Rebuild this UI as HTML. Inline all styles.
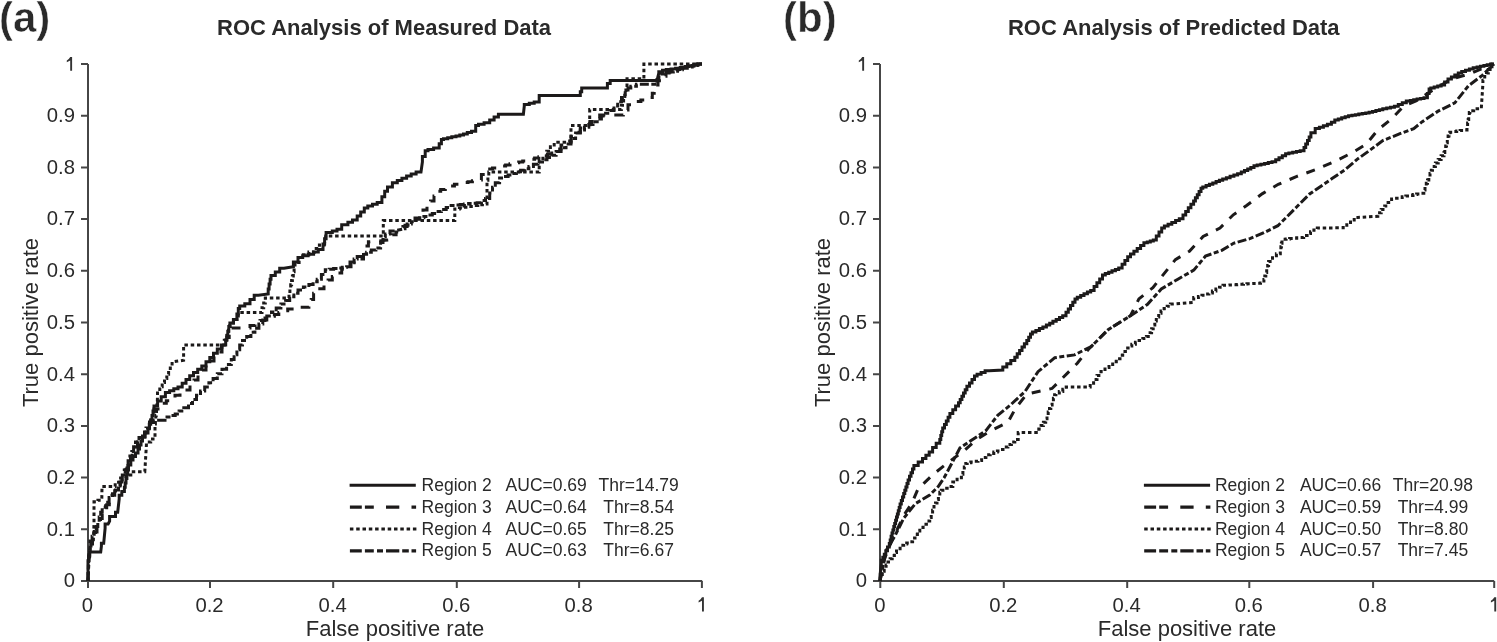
<!DOCTYPE html>
<html><head><meta charset="utf-8"><style>
html,body{margin:0;padding:0;background:#fff;width:1497px;height:642px;overflow:hidden}
svg{display:block;will-change:transform}
text{font-family:"Liberation Sans",sans-serif;fill:#2a2a2a}
</style></head><body>
<svg width="1497" height="642" viewBox="0 0 1497 642">
<text x="-1" y="32" font-size="42" font-weight="bold" text-anchor="start" fill="#1e1b1b" stroke="#fff" stroke-width="0.5">(a)</text>
<text x="783" y="32" font-size="42" font-weight="bold" text-anchor="start" fill="#1e1b1b" stroke="#fff" stroke-width="0.5">(b)</text>
<text x="217" y="35" font-size="22" font-weight="bold" text-anchor="start" fill="#1e1b1b" transform="translate(0 35) scale(1 1.04) translate(0 -35)">ROC Analysis of Measured Data</text>
<text x="1008" y="35" font-size="22" font-weight="bold" text-anchor="start" fill="#1e1b1b" transform="translate(0 35) scale(1 1.04) translate(0 -35)">ROC Analysis of Predicted Data</text>
<path d="M88 64V581H702.2" fill="none" stroke="#464646" stroke-width="2"/>
<text x="75" y="587.3" font-size="20.3" font-weight="normal" text-anchor="end" fill="#333">0</text>
<text x="75" y="535.5999999999999" font-size="20.3" font-weight="normal" text-anchor="end" fill="#333">0.1</text>
<text x="75" y="483.90000000000003" font-size="20.3" font-weight="normal" text-anchor="end" fill="#333">0.2</text>
<text x="75" y="432.2" font-size="20.3" font-weight="normal" text-anchor="end" fill="#333">0.3</text>
<text x="75" y="380.5" font-size="20.3" font-weight="normal" text-anchor="end" fill="#333">0.4</text>
<text x="75" y="328.8" font-size="20.3" font-weight="normal" text-anchor="end" fill="#333">0.5</text>
<text x="75" y="277.1" font-size="20.3" font-weight="normal" text-anchor="end" fill="#333">0.6</text>
<text x="75" y="225.40000000000003" font-size="20.3" font-weight="normal" text-anchor="end" fill="#333">0.7</text>
<text x="75" y="173.7" font-size="20.3" font-weight="normal" text-anchor="end" fill="#333">0.8</text>
<text x="75" y="121.99999999999999" font-size="20.3" font-weight="normal" text-anchor="end" fill="#333">0.9</text>
<path d="M70.20 56.90H72.10V70.80H70.20V60.50L66.80 62.30V60.40Q69.00 59.10 70.20 56.90Z" fill="#333"/>
<text x="87.5" y="612" font-size="20.3" font-weight="normal" text-anchor="middle" fill="#333">0</text>
<text x="209.5" y="612" font-size="20.3" font-weight="normal" text-anchor="middle" fill="#333">0.2</text>
<text x="332.7" y="612" font-size="20.3" font-weight="normal" text-anchor="middle" fill="#333">0.4</text>
<text x="456.3" y="612" font-size="20.3" font-weight="normal" text-anchor="middle" fill="#333">0.6</text>
<text x="578.6" y="612" font-size="20.3" font-weight="normal" text-anchor="middle" fill="#333">0.8</text>
<path d="M702.00 597.20H703.90V611.60H702.00V600.80L698.60 602.60V600.70Q700.80 599.40 702.00 597.20Z" fill="#333"/>
<path d="M81 581.0H88 M81 529.3H88 M81 477.6H88 M81 425.9H88 M81 374.2H88 M81 322.5H88 M81 270.8H88 M81 219.1H88 M81 167.4H88 M81 115.7H88 M81 64.0H88 M88.0 581V588 M210.0 581V588 M333.2 581V588 M456.8 581V588 M579.1 581V588 M701.9 581V588" stroke="#464646" stroke-width="2"/>
<text x="395.0" y="636" font-size="22" font-weight="normal" text-anchor="middle" fill="#333">False positive rate</text>
<text x="38" y="322.5" font-size="22" font-weight="normal" text-anchor="middle" fill="#333" transform="rotate(-90 38 322.5)">True positive rate</text>
<path d="M880 64V581H1494.2" fill="none" stroke="#464646" stroke-width="2"/>
<text x="867" y="587.3" font-size="20.3" font-weight="normal" text-anchor="end" fill="#333">0</text>
<text x="867" y="535.5999999999999" font-size="20.3" font-weight="normal" text-anchor="end" fill="#333">0.1</text>
<text x="867" y="483.90000000000003" font-size="20.3" font-weight="normal" text-anchor="end" fill="#333">0.2</text>
<text x="867" y="432.2" font-size="20.3" font-weight="normal" text-anchor="end" fill="#333">0.3</text>
<text x="867" y="380.5" font-size="20.3" font-weight="normal" text-anchor="end" fill="#333">0.4</text>
<text x="867" y="328.8" font-size="20.3" font-weight="normal" text-anchor="end" fill="#333">0.5</text>
<text x="867" y="277.1" font-size="20.3" font-weight="normal" text-anchor="end" fill="#333">0.6</text>
<text x="867" y="225.40000000000003" font-size="20.3" font-weight="normal" text-anchor="end" fill="#333">0.7</text>
<text x="867" y="173.7" font-size="20.3" font-weight="normal" text-anchor="end" fill="#333">0.8</text>
<text x="867" y="121.99999999999999" font-size="20.3" font-weight="normal" text-anchor="end" fill="#333">0.9</text>
<path d="M862.20 56.90H864.10V70.80H862.20V60.50L858.80 62.30V60.40Q861.00 59.10 862.20 56.90Z" fill="#333"/>
<text x="879.8" y="612" font-size="20.3" font-weight="normal" text-anchor="middle" fill="#333">0</text>
<text x="1003.3" y="612" font-size="20.3" font-weight="normal" text-anchor="middle" fill="#333">0.2</text>
<text x="1126.7" y="612" font-size="20.3" font-weight="normal" text-anchor="middle" fill="#333">0.4</text>
<text x="1248.8" y="612" font-size="20.3" font-weight="normal" text-anchor="middle" fill="#333">0.6</text>
<text x="1372.6" y="612" font-size="20.3" font-weight="normal" text-anchor="middle" fill="#333">0.8</text>
<path d="M1494.30 597.20H1496.20V611.60H1494.30V600.80L1490.90 602.60V600.70Q1493.10 599.40 1494.30 597.20Z" fill="#333"/>
<path d="M873 581.0H880 M873 529.3H880 M873 477.6H880 M873 425.9H880 M873 374.2H880 M873 322.5H880 M873 270.8H880 M873 219.1H880 M873 167.4H880 M873 115.7H880 M873 64.0H880 M880.3 581V588 M1003.8 581V588 M1127.2 581V588 M1249.3 581V588 M1373.1 581V588 M1494.2 581V588" stroke="#464646" stroke-width="2"/>
<text x="1187.0" y="636" font-size="22" font-weight="normal" text-anchor="middle" fill="#333">False positive rate</text>
<text x="830" y="322.5" font-size="22" font-weight="normal" text-anchor="middle" fill="#333" transform="rotate(-90 830 322.5)">True positive rate</text>
<path d="M88.0 581.0 L89.0 560.0 L89.0 555.3 L89.7 555.3 L89.7 550.7 L90.3 550.7 L90.3 546.0 L91.0 546.0 L91.0 541.8 L93.3 541.8 L94.0 524.0 L94.0 503.3 L94.0 501.8 L97.9 501.8 L97.9 500.3 L101.8 500.3 L102.0 486.4 L115.2 486.4 L115.2 482.2 L120.6 482.2 L120.6 478.0 L126.0 478.0 L126.0 474.9 L130.8 474.9 L130.8 471.7 L135.5 471.7 L144.8 471.7 L146.4 445.2 L146.4 442.1 L150.7 442.1 L150.7 439.0 L155.0 439.0 L155.0 428.0 L155.0 423.9 L155.4 423.9 L155.4 419.7 L155.8 419.7 L155.8 415.6 L156.2 415.6 L156.2 411.4 L156.5 411.4 L156.5 407.2 L156.9 407.2 L156.9 403.1 L157.3 403.1 L157.5 395.0 L157.5 390.9 L159.8 390.9 L159.8 386.8 L162.2 386.8 L162.2 382.6 L164.5 382.6 L164.5 378.5 L166.8 378.5 L166.8 374.3 L168.6 374.3 L168.6 370.1 L170.3 370.1 L170.3 365.9 L172.1 365.9 L172.1 361.7 L173.8 361.7 L183.6 360.3 L183.6 344.9 L224.3 344.9 L224.3 340.3 L225.7 340.3 L225.7 335.8 L227.1 335.8 L227.1 331.2 L228.5 331.2 L228.5 326.6 L229.9 326.6 L229.9 323.1 L233.4 323.1 L233.4 319.6 L236.9 319.6 L236.9 316.1 L238.3 316.1 L238.3 312.6 L239.7 312.6 L262.0 312.6 L262.0 307.7 L263.7 307.7 L263.7 302.9 L265.3 302.9 L265.3 298.0 L267.0 298.0 L289.0 298.0 L289.0 293.6 L289.9 293.6 L289.9 289.2 L290.7 289.2 L290.7 284.8 L291.6 284.8 L291.6 280.5 L292.4 280.5 L292.4 276.1 L293.3 276.1 L293.3 271.7 L294.1 271.7 L294.1 267.3 L295.0 267.3 L295.0 262.4 L299.1 262.4 L299.1 257.5 L303.3 257.5 L303.3 254.7 L308.9 254.7 L308.9 251.9 L314.5 251.9 L314.5 248.4 L319.4 248.4 L319.4 244.9 L324.3 244.9 L325.7 236.0 L383.3 236.0 L383.3 220.6 L454.8 220.6 L454.8 209.7 L454.8 208.9 L459.4 208.9 L459.4 208.1 L464.0 208.1 L464.0 207.3 L468.6 207.3 L468.6 206.4 L473.2 206.4 L473.2 205.6 L477.8 205.6 L477.8 204.8 L482.4 204.8 L482.4 204.0 L487.0 204.0 L487.0 184.5 L487.0 180.3 L487.9 180.3 L487.9 176.2 L488.8 176.2 L488.8 172.0 L489.7 172.0 L539.2 172.0 L539.2 165.0 L539.2 160.4 L542.9 160.4 L542.9 155.9 L546.7 155.9 L546.7 151.3 L550.4 151.3 L550.4 146.8 L554.2 146.8 L554.2 142.2 L557.9 142.2 L571.0 142.2 L571.0 125.4 L589.7 125.4 L589.7 109.5 L621.4 109.5 L621.4 105.2 L622.5 105.2 L622.5 100.9 L623.6 100.9 L623.6 96.6 L624.8 96.6 L624.8 92.3 L625.9 92.3 L625.9 88.0 L627.0 88.0 L627.0 78.7 L643.9 78.7 L643.9 64.0 L702.0 64.0" fill="none" stroke="#1c1a1a" stroke-width="3" stroke-linejoin="miter" stroke-dasharray="3.5 2.8"/>
<path d="M88.0 581.0 L88.5 560.0 L90.0 546.0 L90.0 541.1 L92.1 541.1 L92.1 536.3 L94.2 536.3 L94.2 531.4 L96.3 531.4 L96.3 526.6 L97.8 526.6 L97.8 521.8 L99.2 521.8 L99.2 517.0 L100.7 517.0 L100.7 512.2 L102.2 512.2 L102.2 507.3 L105.6 507.3 L105.6 502.3 L109.1 502.3 L109.1 497.4 L112.5 497.4 L112.5 493.7 L115.5 493.7 L115.5 490.0 L118.5 490.0 L118.5 485.0 L120.4 485.0 L120.4 480.1 L122.3 480.1 L122.3 475.1 L124.3 475.1 L124.3 470.1 L126.2 470.1 L126.2 465.4 L128.1 465.4 L128.1 460.7 L129.9 460.7 L129.9 456.1 L131.8 456.1 L131.8 451.4 L133.6 451.4 L133.6 446.7 L135.5 446.7 L135.5 442.0 L139.0 442.0 L139.0 437.4 L142.5 437.4 L142.5 432.7 L146.0 432.7 L146.0 428.0 L149.5 428.0 L149.5 424.1 L153.4 424.1 L153.4 420.2 L157.3 420.2 L165.0 420.2 L165.0 417.1 L171.3 417.1 L171.3 415.6 L175.2 415.6 L175.2 414.0 L179.1 414.0 L179.1 410.9 L183.8 410.9 L183.8 407.8 L188.5 407.8 L188.5 403.6 L192.5 403.6 L192.5 399.5 L196.5 399.5 L196.5 395.3 L200.5 395.3 L200.5 391.1 L204.7 391.1 L204.7 386.9 L208.9 386.9 L208.9 382.7 L213.1 382.7 L213.1 378.5 L217.3 378.5 L217.3 373.8 L222.0 373.8 L222.0 369.2 L226.6 369.2 L226.6 364.5 L231.3 364.5 L231.3 359.6 L234.1 359.6 L234.1 354.7 L236.9 354.7 L236.9 349.8 L239.7 349.8 L239.7 344.9 L242.5 344.9 L242.5 340.6 L246.7 340.6 L246.7 336.4 L250.9 336.4 L250.9 332.3 L254.9 332.3 L254.9 328.2 L258.9 328.2 L258.9 324.1 L262.8 324.1 L262.8 320.0 L266.8 320.0 L266.8 315.9 L271.5 315.9 L271.5 311.9 L276.2 311.9 L276.2 308.0 L280.9 308.0 L280.9 304.1 L285.6 304.1 L285.6 300.5 L289.7 300.5 L289.7 296.8 L293.9 296.8 L293.9 293.2 L298.0 293.2 L298.0 290.1 L303.4 290.1 L303.4 287.0 L308.9 287.0 L308.9 284.4 L313.1 284.4 L313.1 281.8 L317.2 281.8 L317.2 279.2 L321.4 279.2 L321.4 274.5 L325.3 274.5 L325.3 269.8 L329.2 269.8 L329.2 269.2 L333.6 269.2 L333.6 268.6 L337.9 268.6 L337.9 267.9 L342.3 267.9 L342.3 267.3 L346.6 267.3 L346.6 266.7 L351.0 266.7 L351.0 262.8 L354.1 262.8 L354.1 258.9 L357.2 258.9 L357.2 256.6 L361.9 256.6 L361.9 254.3 L366.6 254.3 L366.6 252.2 L371.3 252.2 L371.3 250.1 L375.9 250.1 L375.9 248.0 L380.6 248.0 L380.6 242.6 L383.0 242.6 L383.0 237.1 L385.3 237.1 L385.3 234.0 L390.0 234.0 L390.0 230.9 L394.6 230.9 L402.9 229.1 L402.9 226.6 L407.1 226.6 L407.1 224.1 L411.3 224.1 L411.3 221.7 L415.5 221.7 L415.5 219.2 L419.7 219.2 L419.7 217.8 L423.9 217.8 L423.9 216.4 L428.1 216.4 L428.1 215.0 L432.3 215.0 L432.3 213.6 L436.5 213.6 L436.5 211.6 L441.4 211.6 L441.4 209.6 L446.2 209.6 L446.2 207.5 L451.1 207.5 L451.1 205.5 L456.0 205.5 L456.0 205.0 L460.2 205.0 L460.2 204.6 L464.4 204.6 L464.4 204.1 L468.6 204.1 L468.6 203.6 L472.9 203.6 L472.9 203.2 L477.1 203.2 L477.1 202.7 L481.3 202.7 L481.3 200.6 L485.5 200.6 L485.5 198.5 L489.7 198.5 L489.7 192.9 L492.5 192.9 L492.5 187.3 L495.3 187.3 L495.3 182.7 L499.6 182.7 L499.6 178.0 L504.0 178.0 L504.0 176.5 L508.1 176.5 L508.1 174.9 L512.3 174.9 L512.3 173.4 L516.4 173.4 L516.4 171.8 L520.6 171.8 L520.6 170.3 L524.7 170.3 L524.7 168.7 L528.9 168.7 L528.9 166.5 L533.4 166.5 L533.4 164.2 L538.0 164.2 L538.0 162.0 L542.5 162.0 L542.5 159.8 L547.0 159.8 L547.0 157.5 L551.6 157.5 L551.6 155.3 L556.1 155.3 L556.1 151.6 L561.1 151.6 L561.1 147.8 L566.0 147.8 L566.0 144.1 L571.0 144.1 L571.0 138.5 L575.6 138.5 L575.6 132.9 L580.3 132.9 L580.3 130.1 L584.5 130.1 L584.5 127.3 L588.8 127.3 L588.8 124.5 L593.0 124.5 L593.0 121.7 L597.2 121.7 L597.2 118.9 L601.4 118.9 L601.4 116.1 L605.6 116.1 L605.6 113.2 L609.8 113.2 L609.8 110.4 L614.0 110.4 L614.0 106.1 L617.7 106.1 L617.7 101.7 L621.5 101.7 L621.5 97.4 L625.2 97.4 L625.2 92.7 L628.0 92.7 L628.0 88.0 L630.8 88.0 L630.8 86.2 L636.4 86.2 L636.4 84.3 L642.0 84.3 L657.0 84.3 L657.0 79.6 L658.9 79.6 L658.9 74.9 L660.7 74.9 L660.7 74.0 L664.9 74.0 L664.9 73.1 L669.1 73.1 L669.1 72.1 L673.3 72.1 L673.3 71.2 L677.5 71.2 L677.5 69.8 L682.4 69.8 L682.4 68.3 L687.3 68.3 L687.3 66.9 L692.2 66.9 L692.2 65.4 L697.1 65.4 L697.1 64.0 L702.0 64.0" fill="none" stroke="#1c1a1a" stroke-width="3" stroke-linejoin="miter" stroke-dasharray="9 2.5 5 2.5"/>
<path d="M88.0 581.0 L88.5 562.0 L88.5 557.3 L89.3 557.3 L89.3 552.7 L90.2 552.7 L90.2 548.0 L91.0 548.0 L91.0 544.0 L92.5 544.0 L92.5 540.0 L94.0 540.0 L94.0 536.0 L95.5 536.0 L95.5 532.0 L97.0 532.0 L97.0 527.5 L98.8 527.5 L98.8 523.0 L100.5 523.0 L100.5 518.5 L102.2 518.5 L102.2 514.0 L104.0 514.0 L104.0 509.3 L106.7 509.3 L106.7 504.7 L109.3 504.7 L109.3 500.0 L112.0 500.0 L112.0 495.3 L114.7 495.3 L114.7 490.7 L117.3 490.7 L117.3 486.0 L120.0 486.0 L120.0 482.0 L121.8 482.0 L121.8 478.0 L123.5 478.0 L123.5 474.0 L125.2 474.0 L125.2 470.0 L127.0 470.0 L127.0 465.5 L128.8 465.5 L128.8 461.0 L130.5 461.0 L130.5 456.5 L132.2 456.5 L132.2 452.0 L134.0 452.0 L134.0 447.0 L137.5 447.0 L137.5 442.0 L141.0 442.0 L141.0 437.0 L144.5 437.0 L144.5 432.0 L148.0 432.0 L148.0 427.0 L149.5 427.0 L149.5 422.0 L151.0 422.0 L151.0 417.0 L152.5 417.0 L152.5 412.0 L154.0 412.0 L154.0 409.0 L158.0 409.0 L158.0 406.0 L162.0 406.0 L162.0 403.3 L166.3 403.3 L166.3 400.7 L170.7 400.7 L170.7 398.0 L175.0 398.0 L175.0 395.3 L180.0 395.3 L180.0 392.7 L185.0 392.7 L185.0 390.0 L190.0 390.0 L190.0 385.0 L194.0 385.0 L194.0 380.0 L198.0 380.0 L198.0 375.0 L202.0 375.0 L202.0 370.0 L206.0 370.0 L206.0 365.5 L210.0 365.5 L210.0 361.0 L214.0 361.0 L214.0 356.5 L218.0 356.5 L218.0 352.0 L222.0 352.0 L222.0 347.2 L224.4 347.2 L224.4 342.4 L226.8 342.4 L226.8 337.6 L229.2 337.6 L229.2 332.8 L231.6 332.8 L231.6 328.0 L234.0 328.0 L250.0 328.0 L250.0 325.5 L255.0 325.5 L255.0 323.0 L260.0 323.0 L260.0 320.5 L265.0 320.5 L265.0 318.0 L270.0 318.0 L270.0 316.2 L274.4 316.2 L274.4 314.4 L278.8 314.4 L278.8 312.6 L283.2 312.6 L283.2 310.8 L287.7 310.8 L287.7 309.0 L292.1 309.0 L292.1 307.2 L296.5 307.2 L308.9 307.2 L308.9 303.3 L311.2 303.3 L311.2 299.4 L313.6 299.4 L313.6 293.2 L319.8 293.2 L319.8 288.8 L324.0 288.8 L324.0 284.4 L328.1 284.4 L328.1 280.0 L332.3 280.0 L332.3 276.5 L337.0 276.5 L337.0 273.0 L341.7 273.0 L341.7 269.3 L345.8 269.3 L345.8 265.7 L350.0 265.7 L350.0 262.0 L354.1 262.0 L354.1 260.5 L358.8 260.5 L358.8 259.0 L363.5 259.0 L363.5 254.5 L365.2 254.5 L365.2 250.0 L367.0 250.0 L367.0 245.9 L368.4 245.9 L368.4 241.8 L369.7 241.8 L388.4 240.0 L388.4 237.3 L392.3 237.3 L392.3 234.7 L396.1 234.7 L396.1 232.0 L400.0 232.0 L400.0 228.7 L405.0 228.7 L405.0 225.3 L410.0 225.3 L410.0 222.0 L415.0 222.0 L415.0 218.0 L419.0 218.0 L419.0 214.0 L423.0 214.0 L423.0 210.0 L427.0 210.0 L427.0 205.5 L430.5 205.5 L430.5 201.0 L434.0 201.0 L434.0 196.1 L437.4 196.1 L437.4 191.2 L440.7 191.2 L440.7 189.4 L445.3 189.4 L445.3 187.7 L449.9 187.7 L449.9 185.9 L454.4 185.9 L454.4 184.2 L459.0 184.2 L459.0 183.4 L463.5 183.4 L463.5 182.5 L468.0 182.5 L468.0 181.7 L472.4 181.7 L472.4 180.8 L476.9 180.8 L476.9 180.0 L481.4 180.0 L481.4 174.5 L486.9 174.5 L486.9 169.0 L492.5 169.0 L492.5 168.0 L496.9 168.0 L496.9 166.9 L501.2 166.9 L501.2 165.9 L505.6 165.9 L505.6 164.9 L510.0 164.9 L510.0 163.8 L514.3 163.8 L514.3 162.8 L518.7 162.8 L518.7 161.9 L522.7 161.9 L522.7 161.0 L526.7 161.0 L526.7 160.1 L530.6 160.1 L530.6 159.2 L534.6 159.2 L534.6 158.0 L538.9 158.0 L538.9 156.7 L543.2 156.7 L543.2 155.5 L547.4 155.5 L547.4 154.2 L551.7 154.2 L551.7 153.0 L556.0 153.0 L556.0 149.0 L561.0 149.0 L561.0 145.0 L566.0 145.0 L566.0 141.0 L571.0 141.0 L571.0 136.7 L575.7 136.7 L575.7 132.3 L580.3 132.3 L580.3 128.0 L585.0 128.0 L585.0 124.8 L589.9 124.8 L589.9 121.5 L594.8 121.5 L594.8 118.3 L599.7 118.3 L599.7 115.1 L604.6 115.1 L623.3 115.1 L623.3 109.9 L628.0 109.9 L628.0 104.8 L632.7 104.8 L632.7 103.2 L636.8 103.2 L636.8 101.6 L640.9 101.6 L640.9 100.0 L645.0 100.0 L645.0 98.7 L648.6 98.7 L648.6 97.4 L652.3 97.4 L652.3 93.3 L654.2 93.3 L654.2 89.1 L656.1 89.1 L656.1 85.0 L658.0 85.0 L658.0 80.7 L662.0 80.7 L662.0 76.3 L666.0 76.3 L666.0 72.0 L670.0 72.0 L670.0 70.8 L675.0 70.8 L675.0 69.5 L680.0 69.5 L680.0 68.2 L685.0 68.2 L685.0 67.0 L690.0 67.0 L690.0 66.0 L694.0 66.0 L694.0 65.0 L698.0 65.0 L698.0 64.0 L702.0 64.0" fill="none" stroke="#1c1a1a" stroke-width="3" stroke-linejoin="miter" stroke-dasharray="9 9"/>
<path d="M88.0 581.0 L88.0 565.0 L88.0 560.7 L88.8 560.7 L88.8 556.4 L89.6 556.4 L89.6 552.1 L90.4 552.1 L100.7 552.1 L101.4 546.2 L101.4 543.3 L103.7 543.3 L105.1 528.5 L105.1 524.0 L108.1 524.0 L109.6 521.1 L109.6 516.6 L115.5 516.6 L115.5 512.2 L117.7 512.2 L119.2 498.9 L119.2 495.2 L121.8 495.2 L121.8 491.5 L124.4 491.5 L124.4 487.2 L125.2 487.2 L125.2 482.9 L126.0 482.9 L126.0 478.6 L126.9 478.6 L126.9 474.3 L127.7 474.3 L127.7 470.0 L128.5 470.0 L128.5 465.0 L130.8 465.0 L130.8 460.0 L133.0 460.0 L133.0 456.5 L135.5 456.5 L135.5 453.0 L138.0 453.0 L138.0 449.0 L139.5 449.0 L139.5 445.0 L141.0 445.0 L141.0 441.0 L142.5 441.0 L142.5 437.0 L145.2 437.0 L145.2 433.0 L148.0 433.0 L148.0 428.7 L149.3 428.7 L149.3 424.3 L150.7 424.3 L150.7 420.0 L152.0 420.0 L152.0 415.5 L153.0 415.5 L153.0 411.0 L154.0 411.0 L154.0 406.0 L157.6 406.0 L157.6 401.0 L161.2 401.0 L161.2 396.8 L165.4 396.8 L165.4 392.5 L169.6 392.5 L169.6 390.7 L173.8 390.7 L173.8 388.8 L178.0 388.8 L178.0 387.0 L182.2 387.0 L182.2 383.2 L186.0 383.2 L186.0 379.5 L189.7 379.5 L189.7 375.7 L193.5 375.7 L193.5 372.4 L197.7 372.4 L197.7 369.2 L201.8 369.2 L201.8 365.9 L206.0 365.9 L206.0 361.7 L209.8 361.7 L209.8 357.5 L213.5 357.5 L213.5 353.3 L217.3 353.3 L217.3 349.1 L221.5 349.1 L221.5 344.9 L225.7 344.9 L225.7 340.3 L226.8 340.3 L226.8 335.8 L227.8 335.8 L227.8 331.2 L228.8 331.2 L228.8 326.6 L229.9 326.6 L229.9 323.1 L233.4 323.1 L233.4 319.6 L236.9 319.6 L236.9 314.0 L238.3 314.0 L238.3 308.4 L239.7 308.4 L239.7 306.0 L244.8 306.0 L244.8 303.7 L250.0 303.7 L250.0 299.5 L254.2 299.5 L254.2 295.3 L258.4 295.3 L268.2 293.9 L268.2 289.0 L269.1 289.0 L269.1 284.1 L270.1 284.1 L270.1 279.2 L271.0 279.2 L271.0 275.6 L275.3 275.6 L275.3 271.9 L279.7 271.9 L279.7 268.3 L284.0 268.3 L293.4 266.7 L293.4 262.0 L298.0 262.0 L298.0 257.4 L302.7 257.4 L302.7 255.8 L308.1 255.8 L308.1 254.3 L313.6 254.3 L313.6 251.9 L318.3 251.9 L318.3 249.6 L323.0 249.6 L323.0 244.1 L324.6 244.1 L324.6 238.7 L326.1 238.7 L326.1 232.5 L332.3 232.5 L332.3 230.9 L337.0 230.9 L337.0 229.3 L341.7 229.3 L341.7 224.7 L347.9 224.7 L347.9 222.3 L352.5 222.3 L352.5 220.0 L357.2 220.0 L357.2 216.0 L360.7 216.0 L360.7 212.0 L364.3 212.0 L364.3 208.0 L367.8 208.0 L367.8 206.1 L372.5 206.1 L372.5 204.3 L377.2 204.3 L377.2 202.4 L381.9 202.4 L381.9 196.8 L384.7 196.8 L384.7 191.2 L387.5 191.2 L387.5 187.0 L392.4 187.0 L392.4 182.8 L397.3 182.8 L397.3 180.6 L401.9 180.6 L401.9 178.3 L406.6 178.3 L406.6 176.1 L411.2 176.1 L411.2 174.0 L416.1 174.0 L416.1 171.9 L421.0 171.9 L422.4 162.0 L422.4 156.4 L425.2 156.4 L425.2 150.8 L428.0 150.8 L428.0 149.4 L433.6 149.4 L433.6 148.0 L439.2 148.0 L439.2 143.8 L441.4 143.8 L441.4 139.6 L443.5 139.6 L443.5 138.7 L447.7 138.7 L447.7 137.7 L451.8 137.7 L451.8 136.8 L456.0 136.8 L456.0 135.9 L459.8 135.9 L459.8 134.9 L463.5 134.9 L463.5 134.0 L467.3 134.0 L467.3 132.6 L471.5 132.6 L471.5 131.2 L475.7 131.2 L475.7 125.6 L478.5 125.6 L478.5 124.2 L484.1 124.2 L484.1 122.8 L489.7 122.8 L489.7 119.9 L494.1 119.9 L494.1 117.1 L498.4 117.1 L498.4 114.2 L502.8 114.2 L523.4 114.2 L524.3 105.8 L524.3 104.5 L529.3 104.5 L529.3 103.3 L534.2 103.3 L534.2 102.0 L539.2 102.0 L539.2 95.5 L543.9 95.5 L580.3 95.5 L580.3 91.8 L581.7 91.8 L581.7 88.0 L583.1 88.0 L607.4 88.0 L607.4 83.4 L610.2 83.4 L610.2 80.6 L615.8 80.6 L657.0 80.6 L658.8 73.1 L658.8 71.7 L662.5 71.7 L662.5 70.3 L666.3 70.3 L666.3 69.6 L671.0 69.6 L671.0 68.9 L675.6 68.9 L675.6 68.2 L680.3 68.2 L680.3 67.5 L685.0 67.5 L685.0 66.6 L689.2 66.6 L689.2 65.8 L693.5 65.8 L693.5 64.9 L697.8 64.9 L697.8 64.0 L702.0 64.0" fill="none" stroke="#1c1a1a" stroke-width="3" stroke-linejoin="miter" />
<path d="M880.0 581.0 L880.4 577.5 L880.4 574.4 L882.3 574.4 L882.3 571.2 L884.2 571.2 L884.2 568.1 L886.1 568.1 L886.1 565.0 L888.0 565.0 L888.0 561.9 L890.1 561.9 L890.1 558.7 L892.2 558.7 L892.2 555.5 L894.4 555.5 L894.4 552.4 L896.5 552.4 L896.5 548.8 L900.1 548.8 L900.1 545.3 L903.7 545.3 L903.7 544.1 L906.7 544.1 L906.7 542.9 L909.6 542.9 L909.6 541.7 L912.6 541.7 L912.6 538.1 L915.0 538.1 L915.0 534.5 L917.4 534.5 L917.4 530.9 L919.8 530.9 L919.8 527.6 L923.1 527.6 L923.1 524.3 L926.4 524.3 L926.4 521.0 L929.7 521.0 L929.7 517.4 L931.2 517.4 L931.2 513.8 L932.6 513.8 L932.6 510.2 L934.0 510.2 L934.0 506.6 L935.5 506.6 L935.5 503.0 L937.0 503.0 L937.0 499.4 L938.4 499.4 L938.4 495.8 L939.8 495.8 L939.8 492.2 L941.3 492.2 L941.3 490.3 L945.1 490.3 L945.1 488.3 L949.0 488.3 L949.0 486.4 L952.8 486.4 L952.8 482.1 L957.1 482.1 L957.1 477.8 L961.4 477.8 L961.4 474.2 L962.9 474.2 L962.9 470.6 L964.3 470.6 L964.3 467.0 L965.8 467.0 L965.8 463.4 L967.2 463.4 L967.2 462.7 L970.8 462.7 L970.8 461.9 L974.4 461.9 L974.4 461.2 L978.0 461.2 L978.0 460.5 L981.6 460.5 L981.6 457.6 L985.9 457.6 L985.9 454.7 L990.2 454.7 L990.2 453.4 L993.8 453.4 L993.8 452.1 L997.4 452.1 L997.4 450.9 L1000.9 450.9 L1000.9 449.6 L1004.5 449.6 L1004.5 447.1 L1007.9 447.1 L1007.9 444.5 L1011.4 444.5 L1011.4 441.9 L1014.8 441.9 L1014.8 439.4 L1018.2 439.4 L1018.2 432.5 L1038.8 432.5 L1038.8 429.1 L1041.1 429.1 L1041.1 425.6 L1043.4 425.6 L1043.4 422.2 L1045.7 422.2 L1045.7 418.8 L1047.0 418.8 L1047.0 415.4 L1048.2 415.4 L1048.2 411.9 L1049.5 411.9 L1049.5 408.5 L1050.8 408.5 L1050.8 405.1 L1052.1 405.1 L1052.1 401.6 L1053.4 401.6 L1053.4 398.2 L1054.6 398.2 L1054.6 394.8 L1055.9 394.8 L1055.9 393.1 L1059.3 393.1 L1059.3 391.4 L1062.8 391.4 L1062.8 389.2 L1066.2 389.2 L1066.2 387.1 L1069.6 387.1 L1090.2 387.1 L1090.2 383.2 L1093.6 383.2 L1093.6 379.4 L1097.0 379.4 L1097.0 375.4 L1101.0 375.4 L1101.0 371.4 L1105.0 371.4 L1105.0 367.4 L1109.0 367.4 L1109.0 364.5 L1112.7 364.5 L1112.7 361.7 L1116.3 361.7 L1116.3 358.8 L1120.0 358.8 L1120.0 355.2 L1122.7 355.2 L1122.7 351.6 L1125.4 351.6 L1125.4 348.0 L1128.1 348.0 L1128.1 346.1 L1131.8 346.1 L1131.8 344.2 L1135.4 344.2 L1135.4 342.3 L1139.1 342.3 L1139.1 340.4 L1142.8 340.4 L1142.8 338.5 L1146.4 338.5 L1146.4 336.6 L1150.1 336.6 L1150.1 332.7 L1151.6 332.7 L1151.6 328.8 L1153.2 328.8 L1153.2 324.9 L1154.8 324.9 L1154.8 321.0 L1156.3 321.0 L1156.3 317.1 L1158.7 317.1 L1158.7 313.2 L1161.0 313.2 L1161.0 310.9 L1164.1 310.9 L1164.1 308.5 L1167.2 308.5 L1167.2 306.2 L1170.4 306.2 L1170.4 303.9 L1173.5 303.9 L1193.7 302.3 L1193.7 297.6 L1198.4 297.6 L1198.4 296.5 L1201.9 296.5 L1201.9 295.3 L1205.4 295.3 L1205.4 294.1 L1208.9 294.1 L1208.9 293.0 L1212.4 293.0 L1212.4 291.1 L1215.9 291.1 L1215.9 289.1 L1219.5 289.1 L1219.5 287.2 L1223.0 287.2 L1223.0 285.3 L1226.5 285.3 L1226.5 285.1 L1229.9 285.1 L1229.9 284.9 L1233.3 284.9 L1233.3 284.7 L1236.7 284.7 L1236.7 284.5 L1240.1 284.5 L1240.1 284.3 L1243.5 284.3 L1243.5 284.0 L1246.9 284.0 L1246.9 283.8 L1250.3 283.8 L1250.3 283.6 L1253.7 283.6 L1253.7 283.4 L1257.1 283.4 L1257.1 283.2 L1260.5 283.2 L1260.5 283.0 L1263.9 283.0 L1263.9 279.5 L1264.8 279.5 L1264.8 276.0 L1265.8 276.0 L1265.8 272.5 L1266.7 272.5 L1266.7 269.0 L1267.7 269.0 L1267.7 265.5 L1268.6 265.5 L1268.6 261.6 L1272.5 261.6 L1272.5 257.7 L1276.4 257.7 L1276.4 253.8 L1280.3 253.8 L1280.3 250.3 L1280.9 250.3 L1280.9 246.8 L1281.4 246.8 L1281.4 243.2 L1282.0 243.2 L1282.0 239.7 L1282.6 239.7 L1282.6 239.3 L1286.1 239.3 L1286.1 238.9 L1289.6 238.9 L1289.6 238.6 L1293.2 238.6 L1293.2 238.2 L1296.7 238.2 L1296.7 237.8 L1300.2 237.8 L1300.2 237.4 L1303.7 237.4 L1303.7 235.5 L1307.1 235.5 L1307.1 233.6 L1310.5 233.6 L1310.5 231.8 L1313.9 231.8 L1313.9 229.9 L1317.3 229.9 L1317.3 228.0 L1320.7 228.0 L1343.2 227.8 L1343.2 225.2 L1346.8 225.2 L1346.8 222.6 L1350.5 222.6 L1350.5 220.0 L1354.2 220.0 L1354.2 217.4 L1357.8 217.4 L1377.8 216.3 L1377.8 212.8 L1381.2 212.8 L1381.2 209.4 L1384.7 209.4 L1384.7 205.9 L1388.1 205.9 L1388.1 202.5 L1391.6 202.5 L1391.6 199.0 L1395.0 199.0 L1395.0 198.3 L1398.6 198.3 L1398.6 197.6 L1402.2 197.6 L1402.2 196.8 L1405.8 196.8 L1405.8 196.1 L1409.4 196.1 L1409.4 195.4 L1413.0 195.4 L1413.0 194.6 L1416.6 194.6 L1416.6 193.9 L1420.2 193.9 L1420.2 193.2 L1423.8 193.2 L1423.8 189.9 L1425.0 189.9 L1425.0 186.6 L1426.3 186.6 L1426.3 183.3 L1427.5 183.3 L1427.5 180.1 L1428.8 180.1 L1428.8 176.8 L1430.0 176.8 L1430.0 173.5 L1431.3 173.5 L1431.3 170.2 L1432.5 170.2 L1432.5 166.6 L1435.4 166.6 L1435.4 163.0 L1438.2 163.0 L1438.2 159.4 L1441.1 159.4 L1441.1 155.8 L1444.0 155.8 L1444.0 152.5 L1444.8 152.5 L1444.8 149.2 L1445.7 149.2 L1445.7 145.9 L1446.5 145.9 L1446.5 142.7 L1447.3 142.7 L1447.3 139.4 L1448.1 139.4 L1448.1 136.1 L1449.0 136.1 L1449.0 132.8 L1449.8 132.8 L1449.8 132.2 L1453.2 132.2 L1453.2 131.6 L1456.7 131.6 L1456.7 131.1 L1460.1 131.1 L1460.1 130.5 L1463.6 130.5 L1463.6 129.9 L1467.0 129.9 L1467.0 126.4 L1467.6 126.4 L1467.6 123.0 L1468.2 123.0 L1468.2 119.5 L1468.7 119.5 L1468.7 116.1 L1469.3 116.1 L1469.3 112.6 L1469.9 112.6 L1469.9 110.7 L1473.7 110.7 L1473.7 108.7 L1477.6 108.7 L1477.6 106.8 L1481.4 106.8 L1482.9 83.8 L1482.9 80.2 L1484.7 80.2 L1484.7 76.6 L1486.5 76.6 L1486.5 73.0 L1488.3 73.0 L1488.3 69.4 L1490.1 69.4 L1490.1 66.7 L1492.0 66.7 L1492.0 64.0 L1494.0 64.0" fill="none" stroke="#1c1a1a" stroke-width="3" stroke-linejoin="miter" stroke-dasharray="3.5 2.8"/>
<path d="M880.0 581.0 L886.5 549.8 L895.2 535.4 L903.8 518.1 L915.3 503.7 L929.7 495.1 L938.4 486.4 L944.1 477.8 L960.0 447.9 L970.3 441.1 L985.7 430.8 L997.7 415.4 L1010.0 405.4 L1025.1 391.4 L1038.0 371.7 L1054.8 357.7 L1074.5 354.9 L1091.3 346.5 L1108.1 329.7 L1130.5 315.7 L1147.3 304.5 L1161.3 289.0 L1177.4 279.5 L1193.8 270.1 L1205.5 256.1 L1221.8 250.3 L1233.5 243.3 L1249.9 238.6 L1263.9 232.7 L1277.9 225.7 L1287.3 216.4 L1296.6 207.0 L1309.6 194.0 L1332.0 178.6 L1345.1 169.7 L1357.1 159.4 L1369.1 150.8 L1382.8 140.6 L1400.0 133.7 L1413.7 128.6 L1422.3 121.7 L1437.7 111.4 L1454.8 102.9 L1468.5 85.7 L1482.3 75.4 L1494.0 64.0" fill="none" stroke="#1c1a1a" stroke-width="3" stroke-linejoin="miter" stroke-dasharray="9 2.5 5 2.5"/>
<path d="M880.0 581.0 L884.0 560.0 L890.0 545.0 L897.0 530.0 L904.0 515.0 L912.0 503.0 L918.0 489.0 L932.6 474.9 L947.0 463.4 L964.3 450.4 L976.0 440.0 L990.0 431.0 L1008.0 422.2 L1015.6 408.2 L1026.8 394.1 L1052.0 388.5 L1063.3 377.3 L1077.3 363.3 L1088.5 349.3 L1108.1 329.7 L1130.5 315.7 L1138.9 298.9 L1152.9 287.6 L1164.1 273.6 L1175.4 259.6 L1189.4 251.2 L1203.1 236.5 L1220.0 228.0 L1233.3 214.8 L1246.6 205.5 L1262.5 193.6 L1278.3 184.3 L1296.9 176.4 L1315.4 169.7 L1334.6 161.6 L1351.8 152.9 L1366.2 144.3 L1377.8 129.9 L1391.4 119.1 L1403.4 106.3 L1416.0 101.0 L1430.0 92.0 L1451.4 79.0 L1470.3 73.7 L1485.7 66.9 L1494.0 64.0" fill="none" stroke="#1c1a1a" stroke-width="3" stroke-linejoin="miter" stroke-dasharray="9 9"/>
<path d="M880.0 581.0 L879.8 578.0 L881.3 563.2 L881.3 560.2 L882.8 560.2 L882.8 557.2 L884.3 557.2 L884.3 554.2 L885.8 554.2 L885.8 550.7 L887.5 550.7 L887.5 547.1 L889.3 547.1 L889.3 543.5 L890.2 543.5 L890.2 539.9 L891.1 539.9 L891.1 536.3 L892.0 536.3 L892.0 533.1 L892.9 533.1 L892.9 529.9 L893.8 529.9 L893.8 526.6 L894.7 526.6 L894.7 523.4 L895.6 523.4 L895.6 520.2 L896.5 520.2 L896.5 517.1 L897.4 517.1 L897.4 513.9 L898.3 513.9 L898.3 510.8 L899.2 510.8 L899.2 507.6 L900.1 507.6 L900.1 504.0 L901.3 504.0 L901.3 500.5 L902.5 500.5 L902.5 496.9 L903.7 496.9 L903.7 493.5 L904.8 493.5 L904.8 490.2 L905.9 490.2 L905.9 486.9 L907.0 486.9 L907.0 483.5 L908.1 483.5 L908.1 479.9 L909.5 479.9 L909.5 476.3 L911.0 476.3 L911.0 472.7 L912.5 472.7 L912.5 469.1 L913.9 469.1 L913.9 465.5 L918.2 465.5 L918.2 461.9 L922.5 461.9 L922.5 458.6 L925.9 458.6 L925.9 455.2 L929.2 455.2 L929.2 451.9 L932.6 451.9 L932.6 447.5 L936.2 447.5 L936.2 443.2 L939.8 443.2 L939.8 439.4 L940.8 439.4 L940.8 435.5 L941.7 435.5 L941.7 431.7 L942.7 431.7 L942.7 428.1 L944.5 428.1 L944.5 424.5 L946.3 424.5 L946.3 420.9 L948.1 420.9 L948.1 417.3 L949.9 417.3 L949.9 413.5 L952.8 413.5 L952.8 409.8 L955.6 409.8 L955.6 406.0 L958.5 406.0 L958.5 402.7 L960.2 402.7 L960.2 399.5 L961.9 399.5 L961.9 396.2 L963.5 396.2 L963.5 393.0 L965.2 393.0 L965.2 389.7 L966.9 389.7 L966.9 386.3 L969.5 386.3 L969.5 382.9 L972.0 382.9 L972.0 379.4 L974.5 379.4 L974.5 376.0 L977.1 376.0 L977.1 374.3 L981.1 374.3 L981.1 372.5 L985.1 372.5 L985.1 370.8 L989.1 370.8 L1002.8 370.0 L1002.8 366.9 L1006.8 366.9 L1006.8 363.7 L1010.8 363.7 L1010.8 360.6 L1014.8 360.6 L1014.8 357.2 L1017.2 357.2 L1017.2 353.8 L1019.6 353.8 L1019.6 350.5 L1022.0 350.5 L1022.0 347.1 L1024.4 347.1 L1024.4 343.7 L1026.8 343.7 L1026.8 340.4 L1028.7 340.4 L1028.7 337.2 L1030.5 337.2 L1030.5 333.9 L1032.4 333.9 L1032.4 332.1 L1035.9 332.1 L1035.9 330.4 L1039.4 330.4 L1039.4 328.6 L1042.9 328.6 L1042.9 326.9 L1046.4 326.9 L1046.4 325.0 L1049.7 325.0 L1049.7 323.2 L1052.9 323.2 L1052.9 321.3 L1056.2 321.3 L1056.2 319.4 L1059.5 319.4 L1059.5 317.6 L1062.7 317.6 L1062.7 315.7 L1066.0 315.7 L1066.0 312.3 L1068.3 312.3 L1068.3 309.0 L1070.5 309.0 L1070.5 305.6 L1072.8 305.6 L1072.8 302.3 L1075.0 302.3 L1075.0 298.9 L1077.3 298.9 L1077.3 297.2 L1080.7 297.2 L1080.7 295.5 L1084.0 295.5 L1084.0 293.8 L1087.4 293.8 L1087.4 292.1 L1090.7 292.1 L1090.7 290.4 L1094.1 290.4 L1094.1 286.5 L1096.9 286.5 L1096.9 282.7 L1099.7 282.7 L1099.7 278.9 L1102.5 278.9 L1102.5 275.0 L1105.3 275.0 L1105.3 273.6 L1108.7 273.6 L1108.7 272.2 L1112.0 272.2 L1112.0 270.8 L1115.4 270.8 L1115.4 269.4 L1118.7 269.4 L1118.7 268.0 L1122.1 268.0 L1122.1 264.3 L1124.9 264.3 L1124.9 260.5 L1127.7 260.5 L1127.7 256.8 L1130.5 256.8 L1130.5 254.0 L1133.9 254.0 L1133.9 251.2 L1137.2 251.2 L1137.2 248.4 L1140.6 248.4 L1140.6 245.6 L1143.9 245.6 L1143.9 242.8 L1147.3 242.8 L1147.3 241.9 L1150.3 241.9 L1150.3 240.9 L1153.3 240.9 L1153.3 240.0 L1156.3 240.0 L1156.3 236.0 L1159.0 236.0 L1159.0 232.0 L1161.7 232.0 L1161.7 228.0 L1164.4 228.0 L1164.4 226.1 L1168.1 226.1 L1168.1 224.3 L1171.8 224.3 L1171.8 222.4 L1175.6 222.4 L1175.6 220.6 L1179.3 220.6 L1179.3 218.7 L1183.0 218.7 L1183.0 215.1 L1185.7 215.1 L1185.7 211.4 L1188.3 211.4 L1188.3 207.8 L1190.9 207.8 L1190.9 204.2 L1193.6 204.2 L1193.6 201.0 L1195.4 201.0 L1195.4 197.8 L1197.3 197.8 L1197.3 194.7 L1199.1 194.7 L1199.1 191.5 L1201.0 191.5 L1201.0 188.3 L1202.8 188.3 L1202.8 187.0 L1206.1 187.0 L1206.1 185.6 L1209.4 185.6 L1209.4 184.3 L1212.8 184.3 L1212.8 183.0 L1216.1 183.0 L1216.1 181.6 L1219.4 181.6 L1219.4 180.3 L1222.7 180.3 L1222.7 179.0 L1226.4 179.0 L1226.4 177.7 L1230.1 177.7 L1230.1 176.3 L1233.9 176.3 L1233.9 175.0 L1237.6 175.0 L1237.6 173.7 L1241.3 173.7 L1241.3 172.1 L1244.5 172.1 L1244.5 170.5 L1247.7 170.5 L1247.7 169.0 L1250.8 169.0 L1250.8 167.4 L1254.0 167.4 L1254.0 165.8 L1257.2 165.8 L1257.2 165.0 L1260.9 165.0 L1260.9 164.2 L1264.6 164.2 L1264.6 163.4 L1268.3 163.4 L1268.3 162.6 L1272.0 162.6 L1272.0 161.8 L1275.7 161.8 L1275.7 159.8 L1279.0 159.8 L1279.0 157.8 L1282.3 157.8 L1282.3 155.8 L1285.6 155.8 L1285.6 153.8 L1288.9 153.8 L1288.9 153.1 L1292.7 153.1 L1292.7 152.3 L1296.5 152.3 L1296.5 151.6 L1300.2 151.6 L1300.2 150.8 L1304.0 150.8 L1304.0 147.4 L1305.7 147.4 L1305.7 143.9 L1307.5 143.9 L1307.5 140.5 L1309.2 140.5 L1309.2 137.1 L1310.9 137.1 L1310.9 132.8 L1315.2 132.8 L1315.2 128.6 L1319.4 128.6 L1319.4 127.2 L1323.4 127.2 L1323.4 125.7 L1327.4 125.7 L1327.4 124.3 L1331.4 124.3 L1331.4 122.2 L1334.8 122.2 L1334.8 120.0 L1338.3 120.0 L1338.3 118.9 L1341.7 118.9 L1341.7 117.8 L1345.2 117.8 L1345.2 116.8 L1348.6 116.8 L1348.6 115.7 L1352.0 115.7 L1352.0 115.2 L1355.4 115.2 L1355.4 114.7 L1358.8 114.7 L1358.8 114.1 L1362.3 114.1 L1362.3 113.6 L1365.7 113.6 L1365.7 113.1 L1369.1 113.1 L1369.1 112.2 L1372.5 112.2 L1372.5 111.4 L1375.9 111.4 L1375.9 110.5 L1379.4 110.5 L1379.4 109.7 L1382.8 109.7 L1382.8 108.8 L1386.7 108.8 L1386.7 108.0 L1390.5 108.0 L1390.5 107.2 L1394.4 107.2 L1394.4 106.3 L1398.3 106.3 L1398.3 104.6 L1402.3 104.6 L1402.3 102.8 L1406.3 102.8 L1406.3 101.1 L1410.3 101.1 L1410.3 100.4 L1413.7 100.4 L1413.7 99.7 L1417.1 99.7 L1417.1 99.1 L1420.6 99.1 L1420.6 98.4 L1424.0 98.4 L1424.0 97.7 L1427.4 97.7 L1427.4 93.4 L1429.1 93.4 L1429.1 89.1 L1430.8 89.1 L1430.8 88.0 L1434.2 88.0 L1434.2 87.0 L1437.7 87.0 L1437.7 86.0 L1441.1 86.0 L1441.1 84.9 L1444.6 84.9 L1444.6 81.9 L1448.0 81.9 L1448.0 78.9 L1451.4 78.9 L1451.4 76.9 L1454.8 76.9 L1454.8 74.9 L1458.3 74.9 L1458.3 72.9 L1461.7 72.9 L1461.7 71.6 L1465.5 71.6 L1465.5 70.3 L1469.4 70.3 L1469.4 69.0 L1473.2 69.0 L1473.2 67.7 L1477.1 67.7 L1477.1 67.0 L1480.5 67.0 L1480.5 66.2 L1483.9 66.2 L1483.9 65.5 L1487.2 65.5 L1487.2 64.7 L1490.6 64.7 L1490.6 64.0 L1494.0 64.0" fill="none" stroke="#1c1a1a" stroke-width="3" stroke-linejoin="miter" />
<path d="M349.6 485.2H415.8" stroke="#1c1a1a" stroke-width="3.1"/>
<text x="421.6" y="490.7" font-size="17.5" font-weight="normal" text-anchor="start" >Region 2</text>
<text x="505.6" y="490.7" font-size="17.5" font-weight="normal" text-anchor="start" >AUC=0.69</text>
<text x="638.6" y="490.7" font-size="17.5" font-weight="normal" text-anchor="middle" >Thr=14.79</text>
<path d="M349.9 507.1H361.8 M364.9 507.1H373.8 M386.0 507.1H399.3 M411.5 507.1H416.1" stroke="#1c1a1a" stroke-width="3.1"/>
<text x="421.6" y="512.5999999999999" font-size="17.5" font-weight="normal" text-anchor="start" >Region 3</text>
<text x="505.6" y="512.5999999999999" font-size="17.5" font-weight="normal" text-anchor="start" >AUC=0.64</text>
<text x="638.6" y="512.5999999999999" font-size="17.5" font-weight="normal" text-anchor="middle" >Thr=8.54</text>
<path d="M349.9 529.0H353.4 M356.2 529.0H359.7 M362.5 529.0H366.0 M368.8 529.0H372.3 M375.1 529.0H378.6 M381.4 529.0H384.9 M387.7 529.0H391.2 M394.0 529.0H397.5 M400.3 529.0H403.8 M406.6 529.0H410.1 M412.9 529.0H416.4" stroke="#1c1a1a" stroke-width="3.1"/>
<text x="421.6" y="534.5" font-size="17.5" font-weight="normal" text-anchor="start" >Region 4</text>
<text x="505.6" y="534.5" font-size="17.5" font-weight="normal" text-anchor="start" >AUC=0.65</text>
<text x="638.6" y="534.5" font-size="17.5" font-weight="normal" text-anchor="middle" >Thr=8.25</text>
<path d="M349.9 550.9H361.8 M364.9 550.9H373.8 M377.0 550.9H383.0 M386.0 550.9H399.3 M402.2 550.9H408.8 M411.5 550.9H416.1" stroke="#1c1a1a" stroke-width="3.1"/>
<text x="421.6" y="556.4" font-size="17.5" font-weight="normal" text-anchor="start" >Region 5</text>
<text x="505.6" y="556.4" font-size="17.5" font-weight="normal" text-anchor="start" >AUC=0.63</text>
<text x="638.6" y="556.4" font-size="17.5" font-weight="normal" text-anchor="middle" >Thr=6.67</text>
<path d="M1143.9 485.2H1210.1" stroke="#1c1a1a" stroke-width="3.1"/>
<text x="1214.9" y="490.7" font-size="17.5" font-weight="normal" text-anchor="start" >Region 2</text>
<text x="1299.9" y="490.7" font-size="17.5" font-weight="normal" text-anchor="start" >AUC=0.66</text>
<text x="1432.9" y="490.7" font-size="17.5" font-weight="normal" text-anchor="middle" >Thr=20.98</text>
<path d="M1144.2 507.1H1156.1 M1159.2 507.1H1168.1 M1180.3 507.1H1193.6 M1205.8 507.1H1210.4" stroke="#1c1a1a" stroke-width="3.1"/>
<text x="1214.9" y="512.5999999999999" font-size="17.5" font-weight="normal" text-anchor="start" >Region 3</text>
<text x="1299.9" y="512.5999999999999" font-size="17.5" font-weight="normal" text-anchor="start" >AUC=0.59</text>
<text x="1432.9" y="512.5999999999999" font-size="17.5" font-weight="normal" text-anchor="middle" >Thr=4.99</text>
<path d="M1144.2 529.0H1147.7 M1150.5 529.0H1154.0 M1156.8 529.0H1160.3 M1163.1 529.0H1166.6 M1169.4 529.0H1172.9 M1175.7 529.0H1179.2 M1182.0 529.0H1185.5 M1188.3 529.0H1191.8 M1194.6 529.0H1198.1 M1200.9 529.0H1204.4 M1207.2 529.0H1210.7" stroke="#1c1a1a" stroke-width="3.1"/>
<text x="1214.9" y="534.5" font-size="17.5" font-weight="normal" text-anchor="start" >Region 4</text>
<text x="1299.9" y="534.5" font-size="17.5" font-weight="normal" text-anchor="start" >AUC=0.50</text>
<text x="1432.9" y="534.5" font-size="17.5" font-weight="normal" text-anchor="middle" >Thr=8.80</text>
<path d="M1144.2 550.9H1156.1 M1159.2 550.9H1168.1 M1171.3 550.9H1177.3 M1180.3 550.9H1193.6 M1196.5 550.9H1203.1 M1205.8 550.9H1210.4" stroke="#1c1a1a" stroke-width="3.1"/>
<text x="1214.9" y="556.4" font-size="17.5" font-weight="normal" text-anchor="start" >Region 5</text>
<text x="1299.9" y="556.4" font-size="17.5" font-weight="normal" text-anchor="start" >AUC=0.57</text>
<text x="1432.9" y="556.4" font-size="17.5" font-weight="normal" text-anchor="middle" >Thr=7.45</text>
</svg></body></html>
